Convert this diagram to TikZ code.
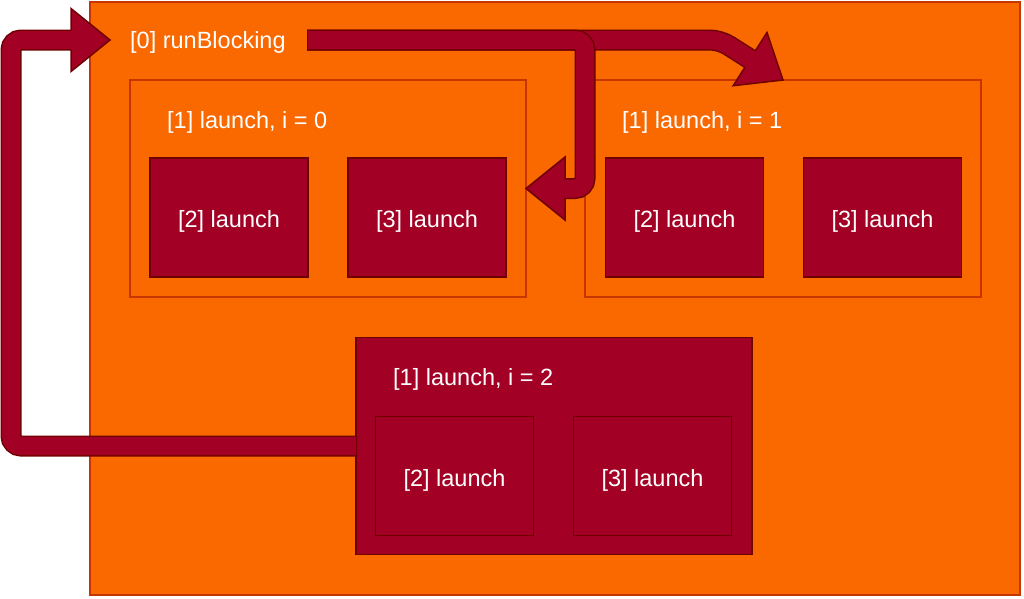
\documentclass[tikz,border=0pt]{standalone}
\usepackage{fontspec}
\setmainfont{Liberation Sans}
\usetikzlibrary{calc,positioning}

\definecolor{orangefill}{HTML}{FA6800}
\definecolor{orangeline}{HTML}{C73500}
\definecolor{redfill}{HTML}{A20025}
\definecolor{redline}{HTML}{6F0000}

\tikzset{
  block/.style={rectangle, draw=orangeline, fill=orangefill, line width=1.5pt,
    inner sep=0pt, outer sep=0pt, minimum width=396pt, minimum height=217pt},
  redblock/.style={block, draw=redline, fill=redfill},
  child/.style={redblock, minimum width=158pt, minimum height=119pt, text=white,
    text height=20pt, text depth=0pt},
  caption/.style={anchor=west, inner sep=0pt, text=white},
  bodyout/.style={draw=redline, line width=21pt, rounded corners=10pt, shorten <=-1pt},
  bodyin/.style={draw=redfill, line width=18pt, rounded corners=10pt},
  headstyle/.style={fill=redfill, draw=redline, line width=1.5pt, line join=miter}
}

% head of a flex arrow: #1 tip, #2 a point back on the body
\newcommand{\flexhead}[2]{%
  \filldraw[headstyle] ($(#1)!39pt!(#2)!31.5pt!90:(#1)$) -- (#1)
    -- ($(#1)!39pt!(#2)!31.5pt!-90:(#1)$) -- cycle;}

\begin{document}
\begin{tikzpicture}[x=1pt, y=-1pt, font=\fontsize{23.5}{28}\selectfont]
  \useasboundingbox (0,0) rectangle (1024,598);

  % runBlocking scope
  \node[block, minimum width=930pt, minimum height=593pt] (rb) at (555,298.5) {};
  \node[caption] (rbtext) at (130,42.5) {[0] runBlocking};
  \coordinate (rbin) at (110,40);
  \coordinate (rbout) at (308,40);

  % launch i = 0
  \node[block] (l0) at (328,188.5) {};
  \node[caption] (l0text) at (167,122.5) {[1] launch, i = 0};
  \node[child] (l0a) at (229,217.5) {[2] launch};
  \node[child] (l0b) at (427,217.5) {[3] launch};

  % launch i = 1
  \node[block] (l1) at (783,188.5) {};
  \node[caption] (l1text) at (622,122.5) {[1] launch, i = 1};
  \node[child] (l1a) at (684.5,217.5) {[2] launch};
  \node[child] (l1b) at (882.5,217.5) {[3] launch};

  % launch i = 2
  \node[redblock] (l2) at (554,446) {};
  \node[caption] (l2text) at (393,379.5) {[1] launch, i = 2};
  \node[child] (l2a) at (454.5,476) {[2] launch};
  \node[child] (l2b) at (652.5,476) {[3] launch};

  % back to runBlocking
  \draw[bodyout] (l2.west) -- (11,446) -- (11,40) -- ($(rbin)!39pt!(11,40)$);
  \flexhead{rbin}{11,40}
  \draw[bodyin] (l2.west) -- (11,446) -- (11,40) -- ($(rbin)!37pt!(11,40)$);

  % to launch i = 1
  \draw[bodyout] (rbout) -- (720,40) -- ($(l1.north)!39pt!(720,40)$);
  \flexhead{l1.north}{720,40}
  \draw[bodyin] (rbout) -- (720,40) -- ($(l1.north)!37pt!(720,40)$);

  % to launch i = 0
  \draw[bodyout] (rbout) -- (585,40) -- (585,188.5) -- ($(l0.east)!39pt!(585,188.5)$);
  \flexhead{l0.east}{585,188.5}
  \draw[bodyin] (rbout) -- (585,40) -- (585,188.5) -- ($(l0.east)!37pt!(585,188.5)$);
\end{tikzpicture}
\end{document}
